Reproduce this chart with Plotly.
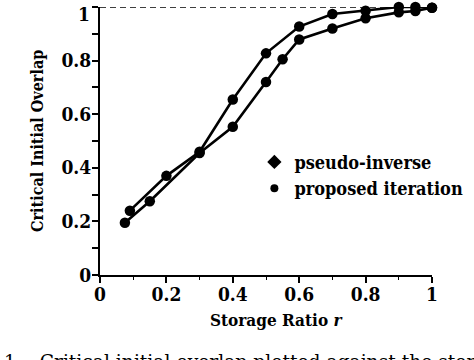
import plotly.graph_objects as go

# Data
r_pinv = [0.09, 0.2, 0.3, 0.4, 0.5, 0.6, 0.7, 0.8, 0.9, 0.95, 1.0]
o_pinv = [0.24, 0.37, 0.46, 0.655, 0.827, 0.927, 0.974, 0.986, 1.0, 1.0, 0.997]
r_prop = [0.075, 0.15, 0.3, 0.4, 0.5, 0.55, 0.6, 0.7, 0.8, 0.9, 0.95, 1.0]
o_prop = [0.195, 0.275, 0.455, 0.553, 0.72, 0.805, 0.879, 0.92, 0.958, 0.98, 0.985, 0.997]
ref_x = [0.0, 1.0]
ref_y = [1.0, 1.0]
xticks = [0, 0.2, 0.4, 0.6, 0.8, 1]
xticklabels = ["0", "0.2", "0.4", "0.6", "0.8", "1"]
yticks = [0, 0.2, 0.4, 0.6, 0.8, 1]
yticklabels = ["0", "0.2", "0.4", "0.6", "0.8", ""]
ytop_label = "1"

FONT = "Liberation Serif"
BFONT = "DejaVu Serif Condensed, DejaVu Serif"
CFONT = "DejaVu Serif"

fig = go.Figure()
fig.add_trace(go.Scatter(x=ref_x, y=ref_y, mode="lines",
                         line=dict(color="black", width=1.5, dash="6px,4px"),
                         showlegend=False, hoverinfo="skip", cliponaxis=False))
fig.add_trace(go.Scatter(x=r_pinv, y=o_pinv, mode="lines+markers",
                         line=dict(color="black", width=2.6),
                         marker=dict(symbol="circle", size=10.5, color="black"),
                         showlegend=False, cliponaxis=False))
fig.add_trace(go.Scatter(x=r_prop, y=o_prop, mode="lines+markers",
                         line=dict(color="black", width=2.6),
                         marker=dict(symbol="circle", size=10.5, color="black"),
                         showlegend=False, cliponaxis=False))
# legend entries
fig.add_trace(go.Scatter(x=[None], y=[None], mode="markers", name="<b>pseudo-inverse</b>",
                         marker=dict(symbol="diamond", size=11, color="black")))
fig.add_trace(go.Scatter(x=[None], y=[None], mode="markers", name="<b>proposed iteration</b>",
                         marker=dict(symbol="circle", size=8, color="black")))

fig.update_layout(
    width=474, height=360,
    margin=dict(l=100, r=42, t=7, b=85, autoexpand=False),
    paper_bgcolor="white", plot_bgcolor="white",
    font=dict(family=FONT, color="black", size=19),
    showlegend=True,
    legend=dict(x=0.465, y=0.49, xanchor="left", yanchor="top",
                font=dict(family=BFONT, size=18, color="black"),
                bgcolor="rgba(0,0,0,0)", itemwidth=30, tracegroupgap=0),
    xaxis=dict(range=[0, 1], tickvals=xticks, ticktext=xticklabels, automargin=False,
               showgrid=False, zeroline=False, showline=True, linecolor="black", linewidth=2,
               ticks="outside", ticklen=6, tickwidth=1.5, tickcolor="black",
               minor=dict(tickvals=[0.1, 0.3, 0.5, 0.7, 0.9], ticks="outside", ticklen=3, tickwidth=1, tickcolor="black"),
               tickfont=dict(family=BFONT, size=19, weight="bold"), ticklabelstandoff=-5,
               ticklabeloverflow="allow"),
    yaxis=dict(range=[0, 1], tickvals=yticks, ticktext=yticklabels, automargin=False,
               showgrid=False, zeroline=False, showline=True, linecolor="black", linewidth=2,
               ticks="outside", ticklen=6, tickwidth=1.5, tickcolor="black",
               minor=dict(tickvals=[0.1, 0.3, 0.5, 0.7, 0.9], ticks="outside", ticklen=6, tickwidth=1.5, tickcolor="black"),
               tickfont=dict(family=BFONT, size=19, weight="bold"), ticklabelstandoff=-3,
               ticklabeloverflow="allow"),
    annotations=[
        dict(text="<b>" + ytop_label + "</b>", xref="paper", yref="y",
             x=0, y=yticks[-1], xanchor="right", yanchor="middle", xshift=-8, yshift=-7,
             showarrow=False, font=dict(family=BFONT, size=19)),
        dict(text="<b>Critical Initial Overlap</b>", xref="paper", yref="paper",
             x=-63/332, y=0.5, xanchor="center", yanchor="middle", textangle=-90,
             showarrow=False, font=dict(family=BFONT, size=16)),
        dict(text="<b>Storage Ratio <i>r</i></b>", xref="paper", yref="paper",
             x=176/332, y=-45/268, xanchor="center", yanchor="middle",
             showarrow=False, font=dict(family=BFONT, size=17)),
        dict(text="1&nbsp;&nbsp;&nbsp;&nbsp;Critical initial overlap plotted against the storage",
             xref="paper", yref="paper", x=-98/332, y=-74/268, xanchor="left", yanchor="top",
             showarrow=False, font=dict(family=CFONT, size=18.7)),
    ],
)

fig.write_html("out.html", config={"displayModeBar": False},
               post_script="document.body.style.margin='0';")
